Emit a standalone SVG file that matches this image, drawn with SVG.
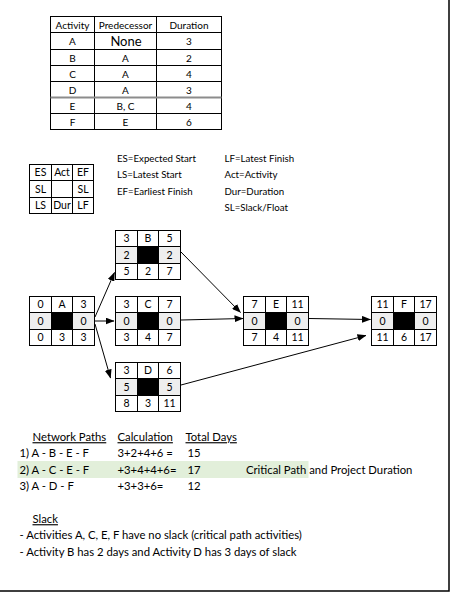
<svg xmlns="http://www.w3.org/2000/svg" xmlns:xlink="http://www.w3.org/1999/xlink" width="450" height="593" viewBox="0 0 450 593">
<style>
  text { font-family: Lato, "Liberation Sans", sans-serif; font-size: 10px; fill: #000; }
  .m { text-anchor: middle; }
  .u { text-decoration: underline; }
  .n text { font-size: 10.5px; }
  .lg { font-size: 9.7px; }
  .b { font-size: 11.3px; }
  .ln { stroke: #000; stroke-width: 1; fill: none; }
  .arr { stroke: #000; stroke-width: 1; fill: none; marker-end: url(#ah); }
  .sl { fill: #eeeeee; }
</style>
<defs>
  <marker id="ah" markerUnits="userSpaceOnUse" markerWidth="9" markerHeight="7" refX="8.5" refY="3.5" orient="auto">
    <path d="M0,0 L9,3.5 L0,7 Z" fill="#000"/>
  </marker>
  <g id="grid">
    <rect x="0" y="16" width="22" height="17" class="sl"/>
    <rect x="43" y="16" width="22" height="17" class="sl"/>
    <rect x="22" y="16" width="21" height="17" fill="#000"/>
    <rect x="0" y="0" width="65" height="49" class="ln"/>
    <path d="M22,0 V49 M43,0 V49 M0,16 H65 M0,33 H65" class="ln"/>
  </g>
  <g id="lgrid">
    <rect x="0" y="0" width="64" height="49" class="ln"/>
    <path d="M22,0 V49 M43,0 V49 M0,16 H64 M0,33 H64" class="ln"/>
  </g>
</defs>
<rect width="450" height="593" fill="#fff"/>
<path d="M449,0 V591 H0" stroke="#000" stroke-width="1.5" fill="none"/>

<g id="table">
  <rect x="50.5" y="16.5" width="171" height="113" class="ln"/>
  <path d="M94.5,16.5 V129.5 M156.5,16.5 V129.5 M50.5,32.5 H221.5 M50.5,49.5 H221.5 M50.5,65.5 H221.5 M50.5,81.5 H221.5 M50.5,113.5 H221.5" class="ln"/>
  <path d="M50.5,97.5 H221.5" stroke="#8c8c8c" stroke-width="2"/>
  <text x="72.5" y="28.5" class="m">Activity</text>
  <text x="125.5" y="28.5" class="m">Predecessor</text>
  <text x="189" y="28.5" class="m">Duration</text>
  <text x="72.5" y="45" class="m">A</text>
  <text x="126" y="46" class="m" style="font-size:13px">None</text>
  <text x="189" y="45" class="m">3</text>
  <text x="72.5" y="61.5" class="m">B</text>
  <text x="125.5" y="61.5" class="m">A</text>
  <text x="189" y="61.5" class="m">2</text>
  <text x="72.5" y="77.5" class="m">C</text>
  <text x="125.5" y="77.5" class="m">A</text>
  <text x="189" y="77.5" class="m">4</text>
  <text x="72.5" y="93.5" class="m">D</text>
  <text x="125.5" y="93.5" class="m">A</text>
  <text x="189" y="93.5" class="m">3</text>
  <text x="72.5" y="109.5" class="m">E</text>
  <text x="125.5" y="109.5" class="m">B, C</text>
  <text x="189" y="109.5" class="m">4</text>
  <text x="72.5" y="125.5" class="m">F</text>
  <text x="125.5" y="125.5" class="m">E</text>
  <text x="189" y="125.5" class="m">6</text>
</g>

<g id="legend" class="n" transform="translate(29.5,164.5)">
  <use xlink:href="#lgrid" href="#lgrid"/>
  <text x="11" y="11.8" class="m">ES</text>
  <text x="32.5" y="11.8" class="m">Act</text>
  <text x="53.5" y="11.8" class="m">EF</text>
  <text x="11" y="28.3" class="m">SL</text>
  <text x="53.5" y="28.3" class="m">SL</text>
  <text x="11" y="44.8" class="m">LS</text>
  <text x="32.5" y="44.8" class="m">Dur</text>
  <text x="53.5" y="44.8" class="m">LF</text>
</g>
<g id="legend-text" class="lg">
  <text x="117" y="162" class="lg">ES=Expected Start</text>
  <text x="117" y="178" class="lg">LS=Latest Start</text>
  <text x="117" y="194.7" class="lg">EF=Earliest Finish</text>
  <text x="224.5" y="162" class="lg">LF=Latest Finish</text>
  <text x="224.5" y="178" class="lg">Act=Activity</text>
  <text x="224.5" y="194.7" class="lg">Dur=Duration</text>
  <text x="224.5" y="211.4" class="lg">SL=Slack/Float</text>
</g>

<g id="connectors">
  <line x1="95" y1="317" x2="114.5" y2="272.5" class="arr"/>
  <line x1="95" y1="321" x2="114" y2="321" class="arr"/>
  <line x1="95" y1="324" x2="110.5" y2="378" class="arr"/>
  <line x1="181" y1="252" x2="240.5" y2="312.5" class="arr"/>
  <line x1="181" y1="320" x2="243" y2="318.5" class="arr"/>
  <line x1="181" y1="385" x2="366" y2="335.5" class="arr"/>
  <line x1="309" y1="318.5" x2="370.5" y2="319.5" class="arr"/>
</g>

<g id="node-A" class="n" transform="translate(29.5,296.5)">
  <use xlink:href="#grid" href="#grid"/>
  <text x="11" y="11.8" class="m">0</text><text x="32.5" y="11.8" class="m">A</text><text x="54" y="11.8" class="m">3</text>
  <text x="11" y="28.3" class="m">0</text><text x="54" y="28.3" class="m">0</text>
  <text x="11" y="44.8" class="m">0</text><text x="32.5" y="44.8" class="m">3</text><text x="54" y="44.8" class="m">3</text>
</g>
<g id="node-B" class="n" transform="translate(115.5,230.5)">
  <use xlink:href="#grid" href="#grid"/>
  <text x="11" y="11.8" class="m">3</text><text x="32.5" y="11.8" class="m">B</text><text x="54" y="11.8" class="m">5</text>
  <text x="11" y="28.3" class="m">2</text><text x="54" y="28.3" class="m">2</text>
  <text x="11" y="44.8" class="m">5</text><text x="32.5" y="44.8" class="m">2</text><text x="54" y="44.8" class="m">7</text>
</g>
<g id="node-C" class="n" transform="translate(115.5,296.5)">
  <use xlink:href="#grid" href="#grid"/>
  <text x="11" y="11.8" class="m">3</text><text x="32.5" y="11.8" class="m">C</text><text x="54" y="11.8" class="m">7</text>
  <text x="11" y="28.3" class="m">0</text><text x="54" y="28.3" class="m">0</text>
  <text x="11" y="44.8" class="m">3</text><text x="32.5" y="44.8" class="m">4</text><text x="54" y="44.8" class="m">7</text>
</g>
<g id="node-D" class="n" transform="translate(115.5,362.5)">
  <use xlink:href="#grid" href="#grid"/>
  <text x="11" y="11.8" class="m">3</text><text x="32.5" y="11.8" class="m">D</text><text x="54" y="11.8" class="m">6</text>
  <text x="11" y="28.3" class="m">5</text><text x="54" y="28.3" class="m">5</text>
  <text x="11" y="44.8" class="m">8</text><text x="32.5" y="44.8" class="m">3</text><text x="54" y="44.8" class="m">11</text>
</g>
<g id="node-E" class="n" transform="translate(243.5,296.5)">
  <use xlink:href="#grid" href="#grid"/>
  <text x="11" y="11.8" class="m">7</text><text x="32.5" y="11.8" class="m">E</text><text x="54" y="11.8" class="m">11</text>
  <text x="11" y="28.3" class="m">0</text><text x="54" y="28.3" class="m">0</text>
  <text x="11" y="44.8" class="m">7</text><text x="32.5" y="44.8" class="m">4</text><text x="54" y="44.8" class="m">11</text>
</g>
<g id="node-F" class="n" transform="translate(371.5,296.5)">
  <use xlink:href="#grid" href="#grid"/>
  <text x="11" y="11.8" class="m">11</text><text x="32.5" y="11.8" class="m">F</text><text x="54" y="11.8" class="m">17</text>
  <text x="11" y="28.3" class="m">0</text><text x="54" y="28.3" class="m">0</text>
  <text x="11" y="44.8" class="m">11</text><text x="32.5" y="44.8" class="m">6</text><text x="54" y="44.8" class="m">17</text>
</g>

<g id="paths">
  <rect x="17.5" y="461" width="291" height="17" fill="#e2efda"/>
  <text x="32.5" y="441.2" class="u b">Network Paths</text>
  <text x="117.5" y="441.2" class="u b">Calculation</text>
  <text x="185.5" y="441.2" class="u b">Total Days</text>
  <text x="19.5" y="457.3" class="b">1) A - B - E - F</text>
  <text x="117.5" y="457.3" class="b">3+2+4+6 =</text>
  <text x="187.5" y="457.3" class="b">15</text>
  <text x="19.5" y="474" class="b">2) A - C - E - F</text>
  <text x="117.5" y="474" class="b">+3+4+4+6=</text>
  <text x="187.5" y="474" class="b">17</text>
  <text x="246" y="474" class="b">Critical Path and Project Duration</text>
  <text x="19.5" y="490.2" class="b">3) A - D - F</text>
  <text x="117.5" y="490.2" class="b">+3+3+6=</text>
  <text x="187.5" y="490.2" class="b">12</text>
</g>

<g id="slack">
  <text x="32.5" y="523.2" class="u b">Slack</text>
  <text x="19.5" y="539" class="b">- Activities A, C, E, F have no slack (critical path activities)</text>
  <text x="19.5" y="555.6" class="b">- Activity B has 2 days and Activity D has 3 days of slack</text>
</g>
</svg>
